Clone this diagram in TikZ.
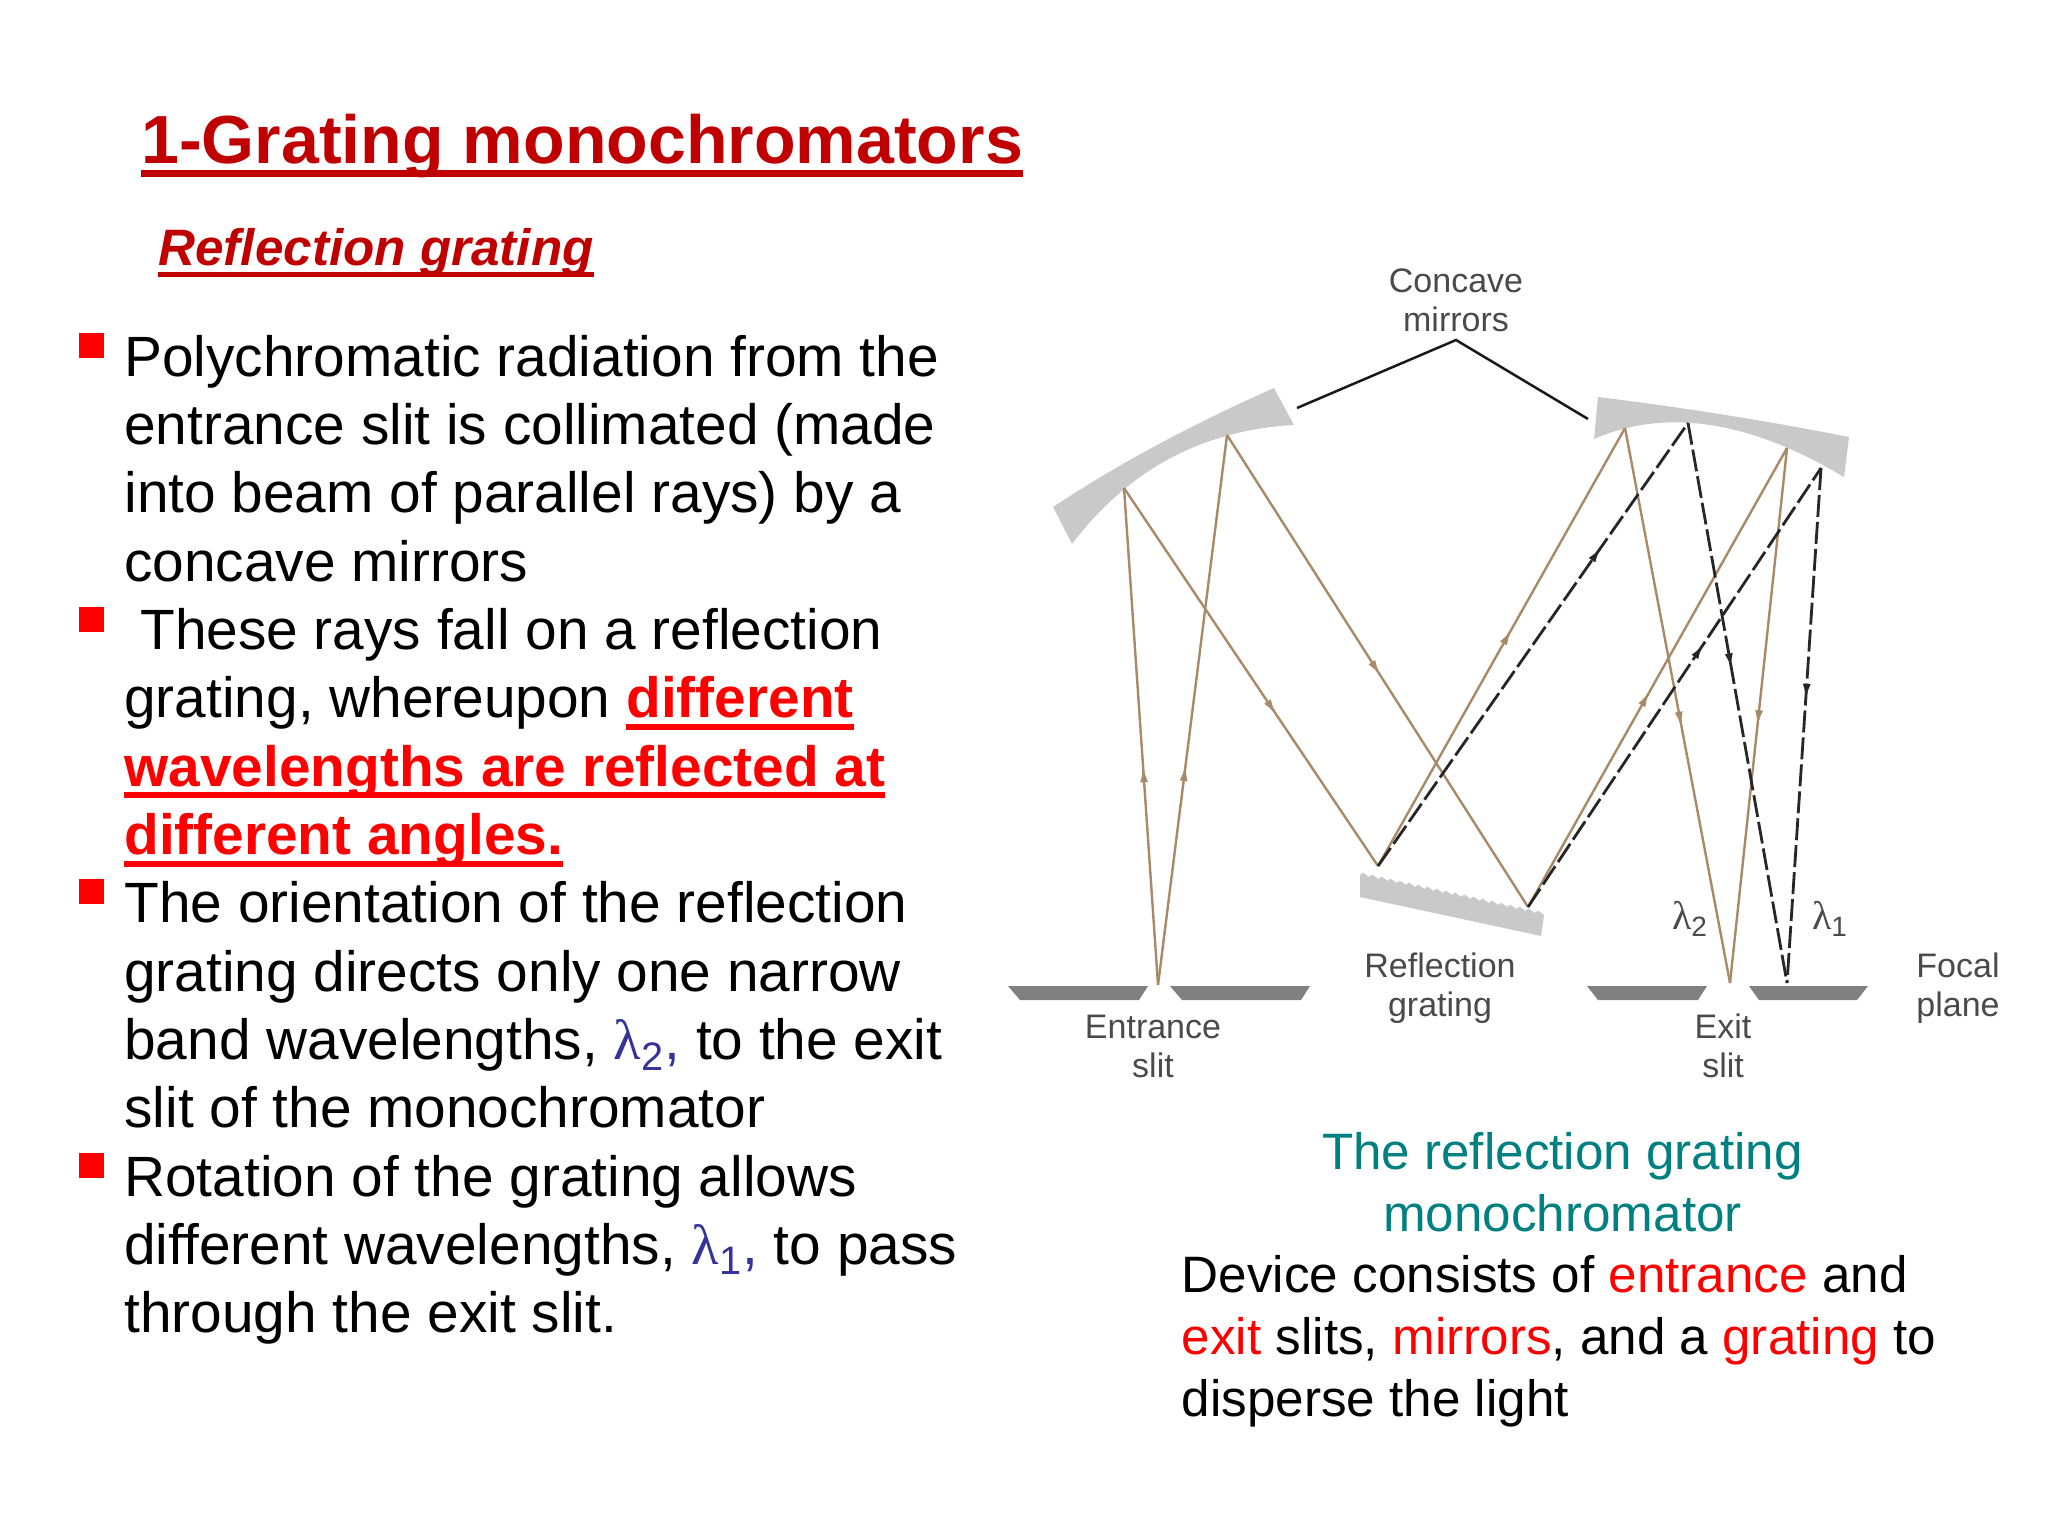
\documentclass[tikz,border=0pt]{standalone}
\usepackage{fontspec}
\setmainfont{Liberation Sans}
\newfontfamily\lamfont{Liberation Serif}
\usetikzlibrary{arrows.meta}
\usetikzlibrary{decorations.markings}

\definecolor{titlered}{HTML}{C00000}
\definecolor{lamblue}{HTML}{333399}
\definecolor{capteal}{HTML}{008080}
\definecolor{raybrown}{HTML}{A98A68}
\definecolor{labelgray}{HTML}{4A4A4A}
\definecolor{mirrorgray}{HTML}{C9C9C9}
\definecolor{slitgray}{HTML}{808080}

\newcommand{\ulbar}[3]{{\sbox0{#3}\rlap{\rule[-#1]{\wd0}{#2}}\box0}}
\newcommand{\hotul}[1]{{\color{red}\bfseries\ulbar{6pt}{3pt}{#1}}}
\newcommand{\lam}[1]{\textcolor{lamblue}{{\lamfont λ}\textsubscript{#1},}}
\newcommand{\redw}[1]{\textcolor{red}{#1}}

\tikzset{
  bodytext/.style={anchor=north west, inner sep=0pt, align=left,
    font=\fontsize{28.4}{34.15}\selectfont},
  captext/.style={anchor=north, inner sep=0pt, align=center,
    font=\fontsize{25.6}{30.9}\selectfont},
  bulletbox/.style={rectangle, fill=red, inner sep=0pt, minimum size=12.5pt},
  partlabel/.style={inner sep=0pt, align=center, text=labelgray,
    font=\fontsize{17}{19.5}\selectfont},
  lamlabel/.style={inner sep=0pt, text=labelgray, font=\fontsize{20}{22}\lamfont},
  mirrorfill/.style={fill=mirrorgray},
  slitfill/.style={fill=slitgray},
  arrowat/.style={postaction={decorate},
    decoration={markings, mark=at position #1 with {\arrow{Latex[length=8pt,width=4pt]}}}},
  rayline/.style={draw=raybrown, line width=1.2pt, arrowat=#1},
  darkray/.style={draw=black!85, line width=1.4pt, dash pattern=on 11pt off 2.5pt, arrowat=#1},
}

\begin{document}
\begin{tikzpicture}[x=0.5pt, y=-0.5pt]
  \useasboundingbox (0,0) rectangle (2048,1536);

  \node[anchor=base west, inner sep=0pt, text=titlered, font=\fontsize{34.05}{40}\selectfont\bfseries]
    (title) at (141,163) {\ulbar{7pt}{3.5pt}{1-Grating monochromators}};
  \node[anchor=base west, inner sep=0pt, text=titlered, font=\fontsize{25.6}{30}\selectfont\bfseries\itshape]
    (subtitle) at (158,265) {\ulbar{6pt}{2.5pt}{Reflection grating}};

  \foreach \i/\y in {1/345.5, 2/619.5, 3/891.5, 4/1165} {
    \node[bulletbox] (bul\i) at (91.5,\y) {};
  }

  \node[bodytext] (textA) at (124,328) {\strut Polychromatic radiation from the\\
    \strut entrance slit is collimated (made\\
    \strut into beam of parallel rays) by a\\
    \strut concave mirrors};
  \node[bodytext] (textB) at (124,601.4) {\strut\hspace*{8pt}These rays fall on a reflection\\
    \strut grating, whereupon \hotul{different}\\
    \strut\hotul{wavelengths are reflected at}\\
    \strut\hotul{different angles.}};
  \node[bodytext] (textC) at (124,874.6) {\strut The orientation of the reflection\\
    \strut grating directs only one narrow\\
    \strut band wavelengths, \lam{2} to the exit\\
    \strut slit of the monochromator};
  \node[bodytext] (textD) at (124,1147.8) {\strut Rotation of the grating allows\\
    \strut different wavelengths, \lam{1} to pass\\
    \strut through the exit slit.};

  \node[captext, text=capteal] (capTop) at (1562.5,1126) {\strut The reflection grating\\
    \strut monochromator};
  \node[bodytext, font=\fontsize{25.6}{30.9}\selectfont] (capBody) at (1181.5,1249) {\strut Device consists of \redw{entrance} and\\
    \strut\redw{exit} slits, \redw{mirrors}, and a \redw{grating} to\\
    \strut disperse the light};

  \fill[mirrorfill] (1053,507) .. controls (1121,462) and (1195,423) .. (1274,388) -- (1294,425)
    .. controls (1203,430) and (1129,469) .. (1072,544) -- cycle;
  \fill[mirrorfill] (1598,397) .. controls (1679,407) and (1763,420) .. (1849,437) -- (1844,477)
    .. controls (1749,420) and (1665,408) .. (1594,439) -- cycle;
  \fill[mirrorfill] (1360,875) foreach \t in {1,...,20} { -- ++(3,-2.5) -- ++(6.2,4.5) }
    -- (1541,936) -- (1360,897) -- cycle;
  \fill[slitfill] (1008,986) -- (1148,986) -- (1139,1000) -- (1020,1000) -- cycle;
  \fill[slitfill] (1170,986) -- (1310,986) -- (1301,1000) -- (1182,1000) -- cycle;
  \fill[slitfill] (1587,986) -- (1707,986) -- (1698,1000) -- (1598,1000) -- cycle;
  \fill[slitfill] (1749,986) -- (1868,986) -- (1857,1000) -- (1759,1000) -- cycle;

  \coordinate (slitIn) at (1158,985);
  \coordinate (slitOut) at (1730,983);
  \coordinate (focus) at (1787,983);
  \coordinate (mirA) at (1124,488);
  \coordinate (mirB) at (1227,435);
  \coordinate (mirC) at (1625,428);
  \coordinate (mirD) at (1688,423);
  \coordinate (mirE) at (1787,448);
  \coordinate (mirF) at (1821,468);
  \coordinate (gratA) at (1378,866);
  \coordinate (gratB) at (1528,907);
  \coordinate (apex) at (1456,340);
  \coordinate (tailL) at (1297,408);
  \coordinate (tailR) at (1588,419);

  \draw[rayline=0.44] (slitIn) -- (mirA);
  \draw[rayline=0.40] (slitIn) -- (mirB);
  \draw[rayline=0.60] (mirA) -- (gratA);
  \draw[rayline=0.51] (mirB) -- (gratB);
  \draw[rayline=0.54] (gratA) -- (mirC);
  \draw[rayline=0.47] (gratB) -- (mirE);
  \draw[rayline=0.54] (mirC) -- (slitOut);
  \draw[rayline=0.52] (mirE) -- (slitOut);
  \draw[darkray=0.72] (gratA) -- (mirD);
  \draw[darkray=0.60] (gratB) -- (mirF);
  \draw[darkray=0.44] (mirD) -- (focus);
  \draw[darkray=0.45] (mirF) -- (focus);

  \draw[line width=1.25pt, black!90] (tailL) -- (apex) -- (tailR);

  \node[partlabel] (concave) at (1456,300) {Concave\\mirrors};
  \node[partlabel] (entrance) at (1153,1046) {Entrance\\slit};
  \node[partlabel] (grating) at (1440,988.5) {Reflection\\grating};
  \node[partlabel] (exit) at (1723,1046) {Exit\\slit};
  \node[partlabel] (focal) at (1958,988.5) {Focal\\plane};
  \node[lamlabel] (lamTwo) at (1690,919) {λ\textsubscript{\rmfamily 2}};
  \node[lamlabel] (lamOne) at (1830,919) {λ\textsubscript{\rmfamily 1}};
\end{tikzpicture}
\end{document}
